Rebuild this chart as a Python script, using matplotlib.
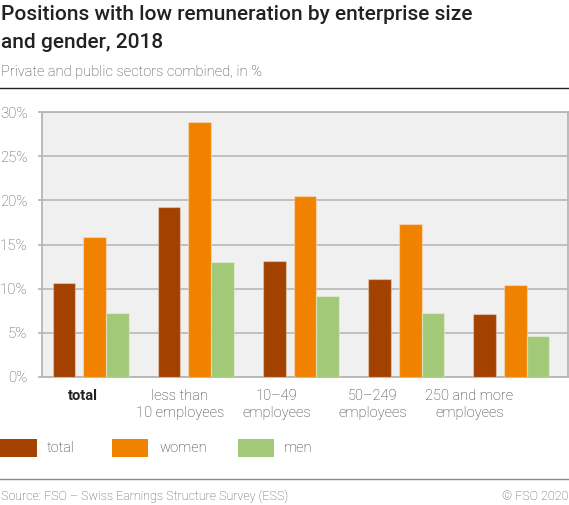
import matplotlib
matplotlib.use("Agg")
import matplotlib.pyplot as plt
import numpy as np
from matplotlib.patches import Rectangle

plt.rcParams['font.family'] = ['Roboto', 'DejaVu Sans']

categories = ["total", "less than\n10 employees", "10–49\nemployees", "50–249\nemployees", "250 and more\nemployees"]
series_names = ["total", "women", "men"]
total_vals = [10.6, 19.2, 13.1, 11.1, 7.1]
women_vals = [15.8, 28.9, 20.5, 17.3, 10.4]
men_vals = [7.2, 13.0, 9.2, 7.2, 4.6]
yticks = [0, 5, 10, 15, 20, 25, 30]
colors = ["#a34100", "#f08200", "#a1c978"]

W, H = 569, 505
fig = plt.figure(figsize=(W / 100, H / 100), dpi=100)

def fx(px):
    return px / W

def fy(py):
    return 1 - py / H

ax = fig.add_axes([fx(42), fy(377), fx(568) - fx(42), fy(112) - fy(377)])
ax.set_facecolor("#f0f0f0")

x = np.arange(len(categories))
width = 0.216
offsets = [-0.292, 0.0, 0.216]
for vals, off, col, name in zip([total_vals, women_vals, men_vals], offsets, colors, series_names):
    ax.bar(x + off, vals, width=width, color=col, edgecolor=(1, 1, 1, 0.35), linewidth=0.9,
           label=name, zorder=3)

ax.set_xlim(-0.5, len(categories) - 0.5)
ax.set_ylim(0, 30)
ax.set_yticks(yticks)
ax.set_yticklabels([f"{t}%" for t in yticks], color="#555555", fontsize=10.8, fontweight="light")
ax.yaxis.grid(True, color="#bbbbbb", linewidth=1.3, zorder=1)
ax.tick_params(axis="y", length=3, color="#bbbbbb", width=1.3, pad=7.5)
for s in ["top", "right", "left", "bottom"]:
    ax.spines[s].set_color("#b5b5b5")
    ax.spines[s].set_linewidth(1.3)

# category labels
label_pos = -0.107 + 0.917 * x
ax.set_xticks(label_pos)
ax.set_xticklabels(categories, fontsize=10.5, color="#333333", fontweight="light", linespacing=1.25)
ax.tick_params(axis="x", length=0, pad=9)
lbls = ax.get_xticklabels()
lbls[0].set_fontweight("bold")
lbls[0].set_color("#222222")

# title
fig.text(fx(1), fy(19.5), "Positions with low remuneration by enterprise size", fontsize=15,
         fontweight="medium", color="#222222", va="baseline", ha="left")
fig.text(fx(1), fy(48.5), "and gender, 2018", fontsize=15,
         fontweight="medium", color="#222222", va="baseline", ha="left")
fig.text(fx(1), fy(76), "Private and public sectors combined, in %", fontsize=10.5,
         fontweight="light", color="#444444", va="baseline", ha="left")
fig.add_artist(plt.Line2D([0, 1], [fy(88.5), fy(88.5)], color="#222222", linewidth=1.0))

# legend
leg_x = [0, 111.7, 237.7]
txt_x = [46.7, 159, 284]
for lx, tx, col, name in zip(leg_x, txt_x, colors, series_names):
    fig.add_artist(Rectangle((fx(lx), fy(456.7)), fx(36.7), fy(439.3) - fy(456.7),
                             facecolor=col, edgecolor="none", transform=fig.transFigure))
    fig.text(fx(tx), fy(448.5), name, fontsize=10.5, fontweight="light", color="#333333",
             va="center", ha="left")

# footer
fig.add_artist(plt.Line2D([0, 1], [fy(478.5), fy(478.5)], color="#888888", linewidth=1.0))
fig.text(fx(1), fy(496.5), "Source: FSO – Swiss Earnings Structure Survey (ESS)", fontsize=9,
         fontweight="light", color="#555555", va="center", ha="left")
fig.text(fx(568), fy(496.5), "© FSO 2020", fontsize=9,
         fontweight="light", color="#555555", va="center", ha="right")

fig.savefig("out.png", dpi=100)
